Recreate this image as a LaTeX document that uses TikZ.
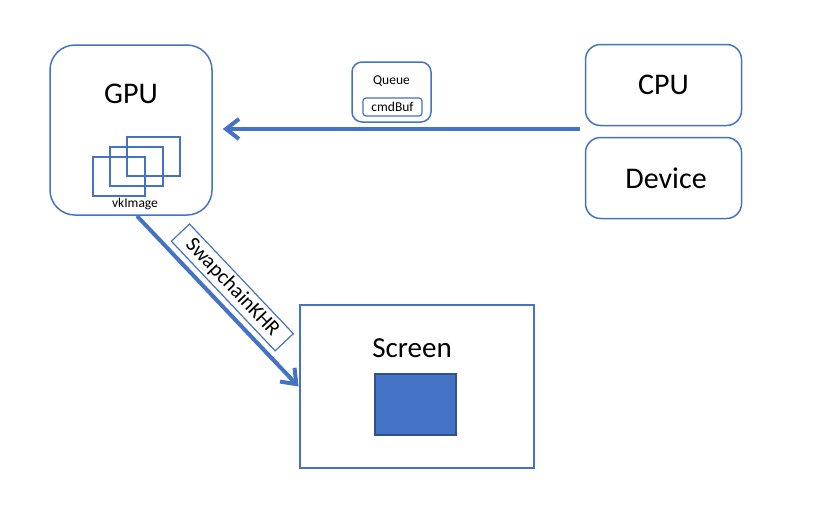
\documentclass[tikz,border=0pt]{standalone}
\usepackage{fontspec}
\setmainfont{Carlito}
\usetikzlibrary{arrows.meta}
\definecolor{DiagramBlue}{HTML}{4472C4}
\definecolor{DiagramDarkBlue}{HTML}{2F528F}

\begin{document}
\begin{tikzpicture}[x=1pt,y=-1pt,
  box/.style={draw=DiagramBlue,line width=1.5pt,rounded corners=#1,inner sep=0pt},
  box/.default=15pt,
  bigtext/.style={font=\fontsize{30}{36}\selectfont},
  smalltext/.style={font=\fontsize{13.5}{16}\selectfont},
  flow/.style={DiagramBlue,line width=4pt,-{Straight Barb[length=13pt,width=20pt,line width=4pt]}}]
  \useasboundingbox (0,0) rectangle (825,512);
  \node[box=25pt,minimum width=162pt,minimum height=170pt] (gpu) at (131,130) {};
  \node[bigtext] (gputext) at (131,94) {GPU};
  \draw[DiagramBlue,line width=1.8pt] (93,157) rectangle (145,196) (110,147) rectangle (163,186) (127,137) rectangle (180,176);
  \node[smalltext] (vkimage) at (135,204) {vkImage};
  \node[box,minimum width=156pt,minimum height=81pt,bigtext] (cpu) at (663.5,85) {CPU};
  \node[box,minimum width=156pt,minimum height=81pt,bigtext] (device) at (663.5,178) {\,Device};
  \node[box=10pt,minimum width=79pt,minimum height=60pt] (queue) at (391.5,92) {};
  \node[smalltext] (queuetext) at (391.5,81) {Queue};
  \node[box=3pt,line width=1.2pt,minimum width=59pt,minimum height=18pt,smalltext] (cmdbuf) at (392.5,107) {cmdBuf};
  \node[draw=DiagramBlue,line width=2pt,minimum width=234pt,minimum height=163pt] (screen) at (416.5,386.5) {};
  \node[bigtext,font=\fontsize{29}{34}\selectfont] (screentext) at (412,348) {Screen};
  \node[draw=DiagramDarkBlue,fill=DiagramBlue,line width=2pt,minimum width=81pt,minimum height=61pt] (frame) at (415,404.5) {};
  \coordinate (cmdsrc) at (580,129);
  \draw[flow,shorten >=10pt] (cmdsrc) -- (gpu.east |- cmdsrc);
  \coordinate (swaptop) at (137,216);
  \draw[flow] (swaptop) -- (screen.west)
    node[midway,sloped,above=7pt,draw=DiagramBlue,line width=1.2pt,text=black,minimum width=151pt,minimum height=25pt,inner sep=0pt,font=\fontsize{21}{25}\selectfont] (swaplabel) {SwapchainKHR};
\end{tikzpicture}
\end{document}
